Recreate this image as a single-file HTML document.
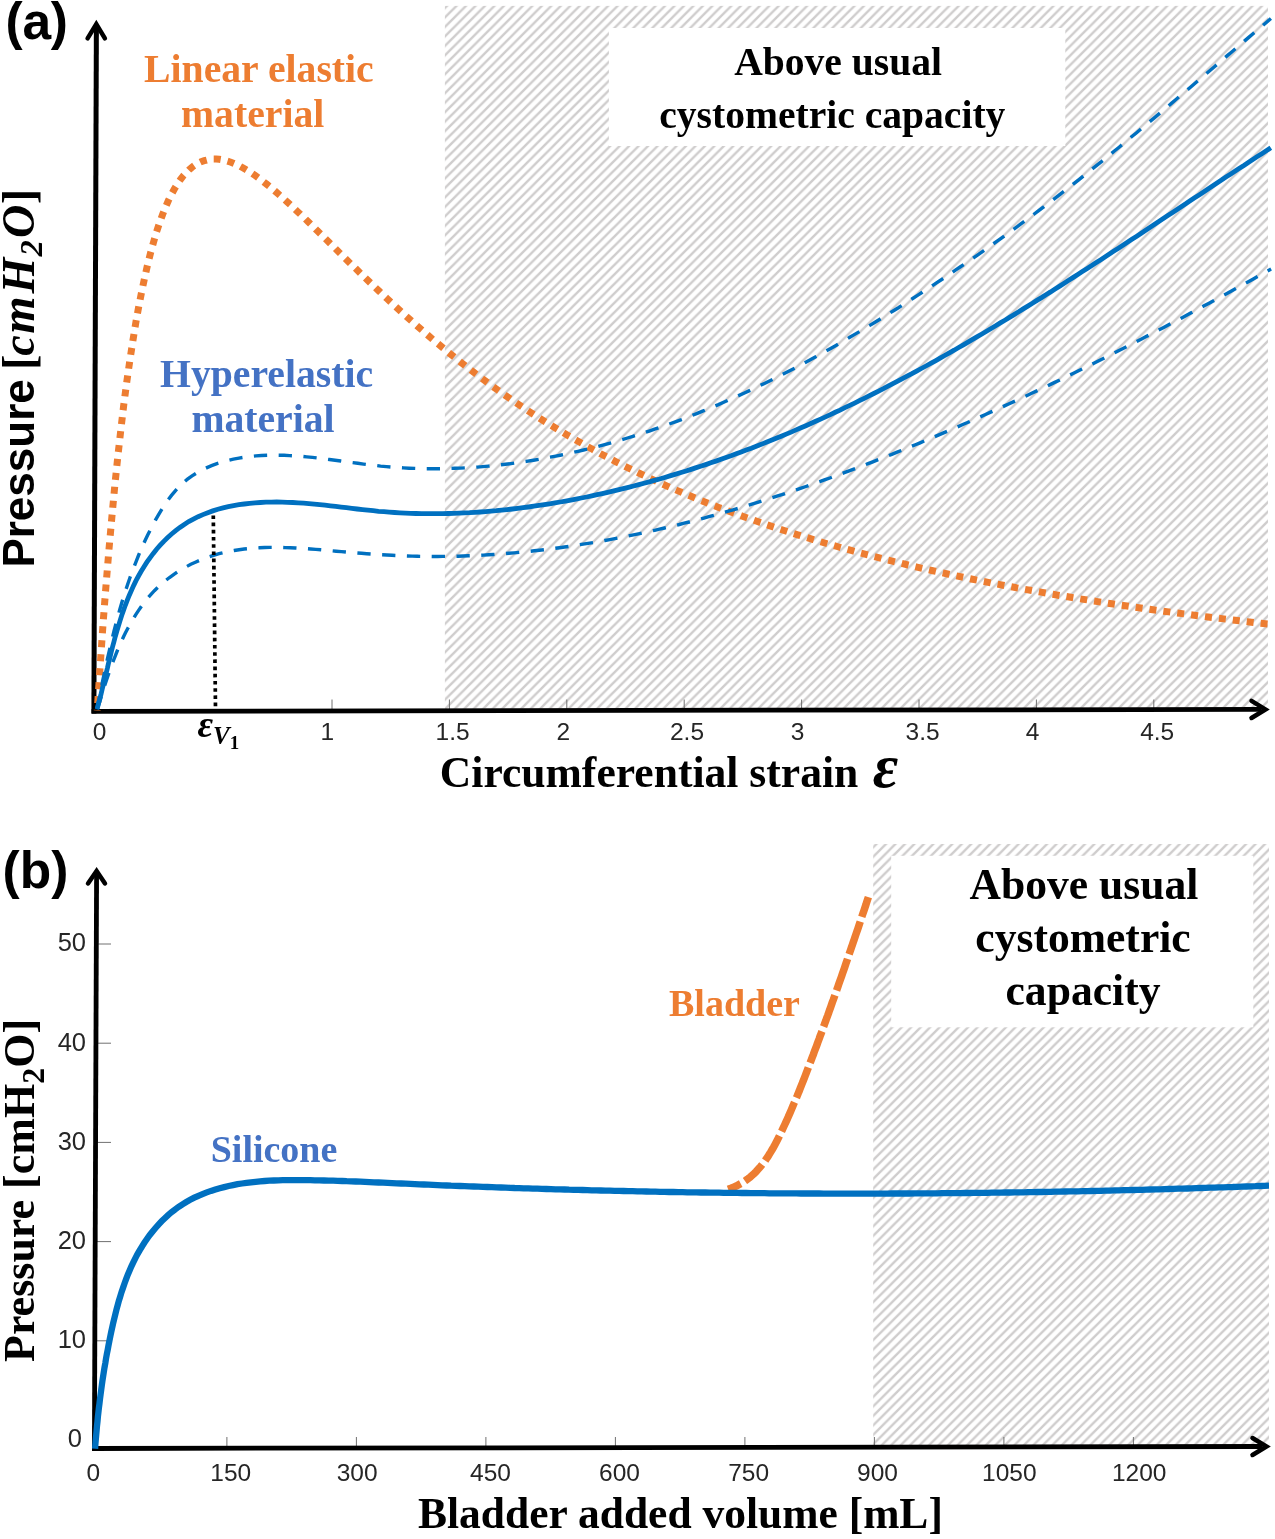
<!DOCTYPE html>
<html lang="en"><head><meta charset="utf-8"><title>Figure</title>
<style>html,body{margin:0;padding:0;background:#fff}svg{display:block}</style></head>
<body>
<svg width="1275" height="1539" viewBox="0 0 1275 1539">
<defs>
<pattern id="hatchA" patternUnits="userSpaceOnUse" width="9.476" height="9.476" x="7.53" y="0"><path d="M-9.476 9.476 L9.476 -9.476 M-9.476 18.952 L18.952 -9.476 M0 18.952 L18.952 0" stroke="#cfcdcd" stroke-width="2.4" fill="none"/></pattern>
<pattern id="hatchB" patternUnits="userSpaceOnUse" width="9.476" height="9.476" x="5.34" y="0"><path d="M-9.476 9.476 L9.476 -9.476 M-9.476 18.952 L18.952 -9.476 M0 18.952 L18.952 0" stroke="#cfcdcd" stroke-width="2.4" fill="none"/></pattern>
</defs>
<rect width="1275" height="1539" fill="#fff"/>
<rect x="444.9" y="5.9" width="823.1" height="703" fill="url(#hatchA)"/>
<rect x="608.9" y="28" width="456.4" height="118" fill="#fff"/>
<line x1="332.0" y1="699.5" x2="332.0" y2="709" stroke="#707070" stroke-width="1"/>
<line x1="449.4" y1="699.5" x2="449.4" y2="709" stroke="#707070" stroke-width="1"/>
<line x1="566.8" y1="699.5" x2="566.8" y2="709" stroke="#707070" stroke-width="1"/>
<line x1="684.2" y1="699.5" x2="684.2" y2="709" stroke="#707070" stroke-width="1"/>
<line x1="801.6" y1="699.5" x2="801.6" y2="709" stroke="#707070" stroke-width="1"/>
<line x1="919.0" y1="699.5" x2="919.0" y2="709" stroke="#707070" stroke-width="1"/>
<line x1="1036.4" y1="699.5" x2="1036.4" y2="709" stroke="#707070" stroke-width="1"/>
<line x1="1153.8" y1="699.5" x2="1153.8" y2="709" stroke="#707070" stroke-width="1"/>
<path d="M93.9 713.6 L96.38 27" stroke="#000" stroke-width="5" fill="none"/>
<path d="M87.6 38.4 L96.3 24 L104.9 38.4" stroke="#000" stroke-width="4.5" fill="none" stroke-linecap="round" stroke-linejoin="miter"/>
<path d="M91.6 711.3 L1261 709.4" stroke="#000" stroke-width="4.8" fill="none"/>
<path d="M1251.5 700.8 L1265.5 709.4 L1251.5 718" stroke="#000" stroke-width="4.5" fill="none" stroke-linecap="round" stroke-linejoin="miter"/>
<path d="M97.2 710.5 L100.2 665.1 L103.1 623.1 L106.1 584.1 L109.1 548.0 L112.1 514.5 L115.0 483.6 L118.0 454.9 L121.0 428.3 L123.9 403.7 L126.9 381.0 L129.9 360.0 L132.9 340.6 L135.8 322.7 L138.8 306.2 L141.8 291.0 L144.8 277.0 L147.7 264.2 L150.7 252.4 L153.7 241.6 L156.6 231.7 L159.6 222.7 L162.6 214.5 L165.6 207.0 L168.5 200.3 L171.5 194.2 L174.5 188.8 L177.4 183.9 L180.4 179.6 L183.4 175.7 L186.4 172.4 L189.3 169.5 L192.3 167.0 L195.3 164.9 L198.3 163.1 L201.2 161.7 L204.2 160.7 L207.2 159.9 L210.1 159.4 L213.1 159.1 L216.1 159.1 L219.1 159.3 L222.0 159.8 L225.0 160.4 L228.0 161.3 L230.9 162.3 L233.9 163.4 L236.9 164.7 L239.9 166.2 L242.8 167.8 L245.8 169.5 L248.8 171.3 L251.8 173.2 L254.7 175.2 L257.7 177.3 L260.7 179.5 L263.6 181.8 L266.6 184.1 L269.6 186.5 L272.6 189.0 L275.5 191.5 L278.5 194.1 L281.5 196.7 L284.4 199.4 L287.4 202.1 L290.4 204.8 L293.4 207.6 L296.3 210.4 L299.3 213.2 L302.3 216.1 L305.3 218.9 L308.2 221.8 L311.2 224.7 L314.2 227.6 L317.1 230.6 L320.1 233.5 L323.1 236.4 L326.1 239.4 L329.0 242.3 L332.0 245.2 L339.9 253.1 L347.8 260.9 L355.7 268.6 L363.6 276.3 L371.5 283.9 L379.4 291.4 L387.2 298.8 L395.1 306.2 L403.0 313.4 L410.9 320.4 L418.8 327.4 L426.7 334.2 L434.6 341.0 L442.5 347.5 L450.4 354.0 L458.3 360.3 L466.2 366.5 L474.1 372.6 L482.0 378.5 L489.8 384.3 L497.7 390.0 L505.6 395.6 L513.5 401.0 L521.4 406.4 L529.3 411.6 L537.2 416.7 L545.1 421.7 L553.0 426.5 L560.9 431.3 L568.8 436.0 L576.7 440.5 L584.6 445.0 L592.5 449.3 L600.3 453.6 L608.2 457.7 L616.1 461.8 L624.0 465.8 L631.9 469.7 L639.8 473.5 L647.7 477.2 L655.6 480.9 L663.5 484.5 L671.4 488.0 L679.3 491.4 L687.2 494.7 L695.1 498.0 L702.9 501.2 L710.8 504.3 L718.7 507.4 L726.6 510.4 L734.5 513.3 L742.4 516.2 L750.3 519.0 L758.2 521.8 L766.1 524.5 L774.0 527.2 L781.9 529.8 L789.8 532.3 L797.7 534.8 L805.5 537.2 L813.4 539.6 L821.3 542.0 L829.2 544.3 L837.1 546.5 L845.0 548.8 L852.9 550.9 L860.8 553.1 L868.7 555.1 L876.6 557.2 L884.5 559.2 L892.4 561.2 L900.3 563.1 L908.1 565.0 L916.0 566.9 L923.9 568.7 L931.8 570.5 L939.7 572.2 L947.6 574.0 L955.5 575.7 L963.4 577.3 L971.3 579.0 L979.2 580.6 L987.1 582.1 L995.0 583.7 L1002.9 585.2 L1010.7 586.7 L1018.6 588.2 L1026.5 589.6 L1034.4 591.0 L1042.3 592.4 L1050.2 593.8 L1058.1 595.2 L1066.0 596.5 L1073.9 597.8 L1081.8 599.1 L1089.7 600.3 L1097.6 601.6 L1105.5 602.8 L1113.4 604.0 L1121.2 605.2 L1129.1 606.3 L1137.0 607.5 L1144.9 608.6 L1152.8 609.7 L1160.7 610.8 L1168.6 611.9 L1176.5 612.9 L1184.4 613.9 L1192.3 615.0 L1200.2 616.0 L1208.1 617.0 L1216.0 617.9 L1223.8 618.9 L1231.7 619.8 L1239.6 620.8 L1247.5 621.7 L1255.4 622.6 L1263.3 623.5 L1271.2 624.3" fill="none" stroke="#ED7D31" stroke-width="7" stroke-dasharray="7 7" stroke-dashoffset="6.6"/>
<path d="M96.9 709.3 L98.0 703.6 L99.2 698.0 L100.3 692.4 L101.5 686.8 L102.6 681.2 L103.8 675.6 L105.0 670.0 L106.2 664.5 L107.4 658.9 L108.7 653.4 L110.0 647.8 L111.3 642.3 L112.6 636.8 L113.9 631.3 L115.4 625.8 L116.8 620.4 L118.3 614.9 L119.8 609.5 L121.4 604.1 L123.0 598.7 L124.7 593.3 L126.5 587.9 L128.3 582.5 L130.1 577.2 L132.1 571.9 L134.1 566.6 L136.2 561.3 L138.3 556.0 L140.5 550.7 L142.8 545.5 L145.2 540.3 L147.7 535.1 L150.3 529.9 L152.9 524.8 L155.7 519.6 L158.6 514.6 L161.6 509.6 L164.7 504.7 L168.0 500.0 L171.5 495.4 L175.1 491.1 L178.9 486.9 L183.0 483.0 L187.2 479.4 L191.7 476.1 L196.4 473.1 L201.3 470.4 L206.4 467.9 L211.6 465.7 L216.9 463.7 L222.4 462.0 L227.9 460.5 L233.4 459.2 L239.0 458.1 L244.6 457.2 L250.3 456.5 L255.9 455.9 L261.5 455.5 L267.2 455.3 L272.8 455.2 L278.4 455.2 L284.1 455.3 L289.7 455.6 L295.4 455.9 L301.1 456.3 L306.7 456.9 L312.4 457.4 L318.1 458.1 L323.7 458.8 L329.4 459.5 L335.1 460.2 L340.8 461.0 L346.5 461.8 L352.2 462.6 L357.8 463.3 L363.5 464.1 L369.2 464.8 L374.9 465.4 L380.6 466.1 L386.3 466.6 L392.0 467.1 L397.7 467.5 L403.4 467.9 L409.1 468.2 L414.7 468.4 L420.4 468.6 L426.1 468.7 L431.8 468.7 L437.5 468.7 L443.2 468.7 L448.8 468.5 L454.5 468.3 L460.2 468.1 L465.8 467.8 L471.5 467.5 L477.2 467.1 L482.8 466.6 L488.5 466.1 L494.1 465.5 L499.7 464.9 L505.4 464.3 L511.0 463.6 L516.6 462.8 L522.2 462.0 L527.9 461.1 L533.5 460.2 L539.0 459.3 L544.6 458.3 L550.2 457.2 L555.8 456.1 L561.4 455.0 L566.9 453.8 L572.5 452.6 L578.0 451.3 L583.5 450.0 L589.1 448.7 L594.6 447.3 L600.1 445.8 L605.6 444.3 L611.1 442.8 L616.5 441.3 L622.0 439.7 L627.5 438.0 L632.9 436.3 L638.3 434.6 L643.8 432.9 L649.2 431.1 L654.6 429.2 L660.0 427.4 L665.3 425.5 L670.7 423.5 L676.0 421.6 L681.4 419.6 L686.7 417.5 L692.0 415.4 L697.3 413.3 L702.6 411.2 L707.9 409.0 L713.1 406.8 L718.4 404.6 L723.6 402.3 L728.8 400.0 L734.0 397.7 L739.2 395.4 L744.4 393.0 L749.5 390.6 L754.7 388.2 L759.8 385.7 L764.9 383.2 L770.0 380.7 L775.1 378.2 L780.1 375.6 L785.2 373.0 L790.2 370.4 L795.3 367.8 L800.3 365.1 L805.3 362.4 L810.3 359.7 L815.3 357.0 L820.3 354.2 L825.2 351.5 L830.2 348.7 L835.1 345.9 L840.0 343.0 L844.9 340.2 L849.8 337.3 L854.7 334.4 L859.6 331.5 L864.5 328.6 L869.4 325.6 L874.2 322.7 L879.1 319.7 L883.9 316.7 L888.7 313.7 L893.5 310.7 L898.4 307.7 L903.2 304.6 L907.9 301.6 L912.7 298.5 L917.5 295.4 L922.3 292.3 L927.0 289.2 L931.8 286.1 L936.5 282.9 L941.3 279.8 L946.0 276.6 L950.7 273.4 L955.4 270.2 L960.1 267.0 L964.8 263.8 L969.5 260.6 L974.2 257.3 L978.9 254.1 L983.5 250.8 L988.2 247.5 L992.8 244.2 L997.5 240.9 L1002.1 237.6 L1006.7 234.3 L1011.3 230.9 L1015.9 227.6 L1020.5 224.2 L1025.1 220.8 L1029.6 217.4 L1034.2 214.0 L1038.7 210.6 L1043.3 207.2 L1047.8 203.7 L1052.3 200.3 L1056.8 196.8 L1061.3 193.3 L1065.8 189.9 L1070.3 186.4 L1074.8 182.8 L1079.3 179.3 L1083.7 175.8 L1088.2 172.2 L1092.6 168.7 L1097.0 165.1 L1101.5 161.6 L1105.9 158.0 L1110.3 154.4 L1114.7 150.8 L1119.1 147.2 L1123.5 143.6 L1127.8 139.9 L1132.2 136.3 L1136.6 132.7 L1141.0 129.0 L1145.3 125.4 L1149.7 121.7 L1154.0 118.1 L1158.4 114.4 L1162.7 110.8 L1167.1 107.1 L1171.4 103.4 L1175.7 99.7 L1180.1 96.0 L1184.4 92.4 L1188.7 88.7 L1193.1 85.0 L1197.4 81.3 L1201.7 77.6 L1206.0 73.9 L1210.3 70.2 L1214.7 66.5 L1219.0 62.8 L1223.3 59.1 L1227.6 55.4 L1232.0 51.7 L1236.3 48.0 L1240.6 44.3 L1244.9 40.6 L1249.3 36.9 L1253.6 33.2 L1257.9 29.5 L1262.3 25.9 L1266.6 22.2 L1270.9 18.5" fill="none" stroke="#0070C0" stroke-width="3.4" stroke-dasharray="13.3 11.5"/>
<path d="M97.4 709.2 L98.8 704.6 L100.2 699.9 L101.7 695.1 L103.2 690.4 L104.7 685.5 L106.3 680.7 L108.0 675.8 L109.6 671.0 L111.4 666.1 L113.2 661.2 L115.1 656.3 L117.0 651.5 L119.0 646.7 L121.2 641.9 L123.3 637.2 L125.6 632.6 L128.0 628.0 L130.5 623.4 L133.1 619.0 L135.8 614.6 L138.6 610.4 L141.5 606.2 L144.5 602.1 L147.7 598.2 L151.0 594.4 L154.4 590.7 L158.0 587.2 L161.7 583.8 L165.5 580.6 L169.5 577.5 L173.6 574.6 L177.7 571.8 L182.0 569.2 L186.4 566.7 L190.8 564.3 L195.4 562.2 L200.0 560.2 L204.7 558.3 L209.4 556.6 L214.3 555.1 L219.1 553.7 L224.1 552.5 L229.0 551.4 L234.1 550.5 L239.1 549.7 L244.2 549.0 L249.3 548.5 L254.4 548.1 L259.5 547.8 L264.6 547.5 L269.8 547.4 L274.9 547.4 L280.0 547.4 L285.1 547.6 L290.3 547.7 L295.4 548.0 L300.5 548.3 L305.6 548.6 L310.7 549.0 L315.8 549.4 L320.9 549.8 L326.1 550.3 L331.2 550.7 L336.2 551.2 L341.3 551.6 L346.4 552.1 L351.5 552.5 L356.6 552.9 L361.6 553.3 L366.7 553.7 L371.8 554.1 L376.8 554.4 L381.9 554.7 L386.9 555.0 L392.0 555.3 L397.1 555.5 L402.1 555.8 L407.2 556.0 L412.2 556.1 L417.3 556.3 L422.4 556.4 L427.4 556.4 L432.5 556.5 L437.6 556.5 L442.7 556.4 L447.8 556.4 L452.9 556.3 L458.0 556.2 L463.1 556.0 L468.2 555.8 L473.3 555.6 L478.3 555.4 L483.4 555.1 L488.5 554.8 L493.6 554.5 L498.7 554.1 L503.8 553.7 L508.9 553.3 L514.0 552.9 L519.1 552.4 L524.1 551.9 L529.2 551.4 L534.3 550.8 L539.4 550.3 L544.4 549.7 L549.5 549.0 L554.5 548.4 L559.6 547.7 L564.6 547.0 L569.6 546.3 L574.7 545.5 L579.7 544.7 L584.7 543.9 L589.7 543.1 L594.8 542.3 L599.8 541.4 L604.8 540.5 L609.8 539.6 L614.8 538.7 L619.8 537.7 L624.7 536.7 L629.7 535.7 L634.7 534.7 L639.7 533.6 L644.6 532.5 L649.6 531.5 L654.6 530.3 L659.5 529.2 L664.5 528.0 L669.4 526.9 L674.3 525.7 L679.3 524.5 L684.2 523.2 L689.1 522.0 L694.1 520.7 L699.0 519.4 L703.9 518.1 L708.8 516.7 L713.7 515.4 L718.6 514.0 L723.5 512.6 L728.4 511.2 L733.2 509.8 L738.1 508.4 L743.0 506.9 L747.9 505.4 L752.7 503.9 L757.6 502.4 L762.4 500.9 L767.3 499.4 L772.1 497.8 L777.0 496.2 L781.8 494.7 L786.7 493.0 L791.5 491.4 L796.3 489.8 L801.1 488.1 L805.9 486.5 L810.7 484.8 L815.6 483.1 L820.4 481.4 L825.1 479.7 L829.9 478.0 L834.7 476.2 L839.5 474.5 L844.3 472.7 L849.1 470.9 L853.8 469.1 L858.6 467.3 L863.3 465.5 L868.1 463.6 L872.8 461.8 L877.6 459.9 L882.3 458.1 L887.1 456.2 L891.8 454.3 L896.5 452.4 L901.2 450.5 L906.0 448.6 L910.7 446.7 L915.4 444.7 L920.1 442.8 L924.8 440.8 L929.5 438.9 L934.2 436.9 L938.9 434.9 L943.5 432.9 L948.2 430.9 L952.9 428.9 L957.6 426.9 L962.2 424.8 L966.9 422.8 L971.5 420.7 L976.2 418.7 L980.8 416.6 L985.5 414.5 L990.1 412.4 L994.8 410.4 L999.4 408.2 L1004.0 406.1 L1008.6 404.0 L1013.3 401.9 L1017.9 399.8 L1022.5 397.6 L1027.1 395.5 L1031.7 393.3 L1036.3 391.1 L1040.9 388.9 L1045.5 386.8 L1050.1 384.6 L1054.7 382.4 L1059.3 380.2 L1063.8 377.9 L1068.4 375.7 L1073.0 373.5 L1077.5 371.3 L1082.1 369.0 L1086.7 366.8 L1091.2 364.5 L1095.8 362.2 L1100.3 360.0 L1104.9 357.7 L1109.4 355.4 L1114.0 353.1 L1118.5 350.8 L1123.0 348.5 L1127.6 346.2 L1132.1 343.8 L1136.6 341.5 L1141.1 339.2 L1145.7 336.8 L1150.2 334.5 L1154.7 332.1 L1159.2 329.8 L1163.7 327.4 L1168.2 325.0 L1172.7 322.7 L1177.2 320.3 L1181.7 317.9 L1186.2 315.5 L1190.7 313.1 L1195.2 310.7 L1199.7 308.3 L1204.1 305.8 L1208.6 303.4 L1213.1 301.0 L1217.6 298.6 L1222.0 296.1 L1226.5 293.7 L1231.0 291.2 L1235.4 288.8 L1239.9 286.3 L1244.4 283.8 L1248.8 281.4 L1253.3 278.9 L1257.7 276.4 L1262.2 273.9 L1266.6 271.5 L1271.1 269.0" fill="none" stroke="#0070C0" stroke-width="3.4" stroke-dasharray="13.3 11.5"/>
<path d="M97.1 708.9 L98.4 703.9 L99.8 698.9 L101.1 693.9 L102.3 688.8 L103.6 683.6 L104.8 678.5 L106.1 673.3 L107.4 668.1 L108.6 662.8 L109.9 657.6 L111.2 652.3 L112.5 647.0 L113.9 641.8 L115.3 636.5 L116.8 631.3 L118.4 626.1 L120.0 620.9 L121.6 615.7 L123.4 610.6 L125.2 605.5 L127.2 600.4 L129.2 595.4 L131.4 590.5 L133.6 585.6 L136.0 580.7 L138.5 576.0 L141.2 571.3 L144.0 566.7 L146.9 562.2 L150.0 557.8 L153.3 553.4 L156.6 549.2 L160.2 545.2 L163.8 541.3 L167.7 537.5 L171.6 534.0 L175.7 530.6 L179.9 527.4 L184.3 524.4 L188.7 521.6 L193.4 519.1 L198.1 516.7 L202.9 514.6 L207.8 512.7 L212.8 510.9 L217.9 509.3 L223.1 507.9 L228.3 506.7 L233.6 505.6 L238.9 504.7 L244.3 504.0 L249.6 503.3 L255.0 502.8 L260.4 502.5 L265.9 502.2 L271.3 502.1 L276.7 502.0 L282.1 502.1 L287.5 502.3 L292.8 502.5 L298.2 502.8 L303.6 503.2 L308.9 503.6 L314.3 504.1 L319.7 504.6 L325.0 505.2 L330.4 505.8 L335.7 506.4 L341.1 507.1 L346.4 507.7 L351.8 508.3 L357.1 509.0 L362.5 509.6 L367.8 510.2 L373.2 510.7 L378.5 511.3 L383.9 511.7 L389.2 512.1 L394.6 512.5 L399.9 512.8 L405.3 513.1 L410.7 513.3 L416.0 513.5 L421.4 513.6 L426.8 513.7 L432.1 513.7 L437.5 513.7 L442.8 513.6 L448.2 513.5 L453.6 513.4 L458.9 513.2 L464.3 512.9 L469.6 512.7 L475.0 512.3 L480.3 512.0 L485.7 511.6 L491.0 511.1 L496.4 510.7 L501.7 510.1 L507.1 509.6 L512.4 509.0 L517.7 508.3 L523.0 507.7 L528.4 507.0 L533.7 506.2 L539.0 505.4 L544.3 504.6 L549.6 503.8 L554.9 502.9 L560.2 502.0 L565.5 501.1 L570.8 500.1 L576.0 499.1 L581.3 498.0 L586.6 497.0 L591.8 495.9 L597.1 494.7 L602.3 493.6 L607.6 492.4 L612.8 491.2 L618.0 489.9 L623.2 488.6 L628.4 487.3 L633.6 486.0 L638.8 484.7 L644.0 483.3 L649.2 481.9 L654.4 480.4 L659.6 479.0 L664.7 477.5 L669.9 475.9 L675.0 474.4 L680.2 472.8 L685.3 471.2 L690.4 469.6 L695.5 467.9 L700.6 466.3 L705.7 464.6 L710.8 462.8 L715.9 461.1 L721.0 459.3 L726.0 457.5 L731.1 455.7 L736.2 453.8 L741.2 452.0 L746.2 450.1 L751.3 448.2 L756.3 446.2 L761.3 444.3 L766.3 442.3 L771.3 440.3 L776.2 438.3 L781.2 436.2 L786.2 434.1 L791.1 432.1 L796.1 429.9 L801.0 427.8 L805.9 425.7 L810.8 423.5 L815.7 421.3 L820.6 419.1 L825.5 416.9 L830.4 414.6 L835.2 412.3 L840.1 410.1 L844.9 407.7 L849.8 405.4 L854.6 403.1 L859.4 400.7 L864.2 398.3 L869.0 395.9 L873.8 393.5 L878.6 391.1 L883.4 388.7 L888.1 386.2 L892.9 383.7 L897.7 381.2 L902.4 378.7 L907.1 376.2 L911.9 373.7 L916.6 371.1 L921.3 368.5 L926.0 366.0 L930.7 363.4 L935.4 360.8 L940.1 358.1 L944.7 355.5 L949.4 352.8 L954.1 350.2 L958.7 347.5 L963.4 344.8 L968.0 342.1 L972.6 339.4 L977.3 336.7 L981.9 334.0 L986.5 331.2 L991.1 328.5 L995.7 325.7 L1000.3 322.9 L1004.9 320.2 L1009.5 317.4 L1014.1 314.6 L1018.7 311.8 L1023.2 308.9 L1027.8 306.1 L1032.4 303.3 L1036.9 300.4 L1041.5 297.6 L1046.0 294.7 L1050.6 291.9 L1055.1 289.0 L1059.7 286.1 L1064.2 283.2 L1068.7 280.3 L1073.3 277.4 L1077.8 274.5 L1082.3 271.6 L1086.8 268.7 L1091.4 265.8 L1095.9 262.8 L1100.4 259.9 L1104.9 257.0 L1109.4 254.0 L1113.9 251.1 L1118.4 248.2 L1122.9 245.2 L1127.4 242.3 L1131.9 239.3 L1136.4 236.4 L1140.9 233.4 L1145.3 230.4 L1149.8 227.5 L1154.3 224.5 L1158.8 221.6 L1163.3 218.6 L1167.8 215.6 L1172.2 212.7 L1176.7 209.7 L1181.2 206.7 L1185.7 203.8 L1190.1 200.8 L1194.6 197.8 L1199.1 194.9 L1203.6 191.9 L1208.0 189.0 L1212.5 186.0 L1217.0 183.0 L1221.5 180.1 L1225.9 177.1 L1230.4 174.2 L1234.9 171.2 L1239.4 168.3 L1243.9 165.4 L1248.3 162.4 L1252.8 159.5 L1257.3 156.6 L1261.8 153.7 L1266.3 150.8 L1270.8 147.8" fill="none" stroke="#0070C0" stroke-width="4.8"/>
<line x1="213.3" y1="515.4" x2="215.5" y2="709" stroke="#000" stroke-width="3.7" stroke-dasharray="3.6 3.6"/>
<text x="99.5" y="739.6" font-family='"Liberation Sans", sans-serif' font-size="24.5" fill="#262626" text-anchor="middle">0</text>
<text x="327.3" y="739.6" font-family='"Liberation Sans", sans-serif' font-size="24.5" fill="#262626" text-anchor="middle">1</text>
<text x="452.6" y="739.6" font-family='"Liberation Sans", sans-serif' font-size="24.5" fill="#262626" text-anchor="middle">1.5</text>
<text x="563.2" y="739.6" font-family='"Liberation Sans", sans-serif' font-size="24.5" fill="#262626" text-anchor="middle">2</text>
<text x="687.0" y="739.6" font-family='"Liberation Sans", sans-serif' font-size="24.5" fill="#262626" text-anchor="middle">2.5</text>
<text x="797.6" y="739.6" font-family='"Liberation Sans", sans-serif' font-size="24.5" fill="#262626" text-anchor="middle">3</text>
<text x="922.6" y="739.6" font-family='"Liberation Sans", sans-serif' font-size="24.5" fill="#262626" text-anchor="middle">3.5</text>
<text x="1032.6" y="739.6" font-family='"Liberation Sans", sans-serif' font-size="24.5" fill="#262626" text-anchor="middle">4</text>
<text x="1157.2" y="739.6" font-family='"Liberation Sans", sans-serif' font-size="24.5" fill="#262626" text-anchor="middle">4.5</text>
<text x="5.5" y="39" font-family='"Liberation Sans", sans-serif' font-weight="bold" font-size="51.5" textLength="62.5" fill="#000">(a)</text>
<text font-family='"Liberation Serif", serif' font-weight="bold" font-size="39.7" fill="#ED7D31" text-anchor="middle"><tspan x="258.9" y="81.8">Linear elastic</tspan><tspan x="252.7" y="126.7">material</tspan></text>
<text font-family='"Liberation Serif", serif' font-weight="bold" font-size="39.7" fill="#4472C4" text-anchor="middle"><tspan x="266.6" y="386.8">Hyperelastic</tspan><tspan x="263" y="431.7">material</tspan></text>
<text font-family='"Liberation Serif", serif' font-weight="bold" font-size="39.6" fill="#000" text-anchor="middle"><tspan x="838.1" y="75.3">Above usual</tspan><tspan x="832.3" y="128">cystometric capacity</tspan></text>
<text x="439.8" y="786.8" font-family='"Liberation Serif", serif' font-weight="bold" font-size="43.6" fill="#000">Circumferential strain <tspan font-style="italic" font-size="62" dx="3.5">ε</tspan></text>
<text x="197.5" y="737.3" font-family='"Liberation Serif", serif' font-weight="bold" font-style="italic" font-size="38" fill="#000">ε<tspan font-size="25" dy="6.5">V</tspan><tspan font-size="19" dy="5" font-style="normal">1</tspan></text>
<text transform="translate(33.8 567.6) rotate(-90)" font-family='"Liberation Sans", sans-serif' font-weight="bold" font-size="44" fill="#000">Pressure</text>
<text transform="translate(34 370) rotate(-90)" font-family='"Liberation Serif", serif' font-weight="bold" font-style="italic" font-size="46" fill="#000"><tspan font-style="normal">[</tspan><tspan dx="-1">c</tspan><tspan dx="1.5" font-size="48">m</tspan><tspan dx="3" font-size="46">H</tspan><tspan font-size="32" dy="8" dx="1.5">2</tspan><tspan dy="-8" dx="2.2">O</tspan><tspan font-style="normal" dx="0.5">]</tspan></text>
<rect x="873.2" y="844" width="395.8" height="602.5" fill="url(#hatchB)"/>
<rect x="891.2" y="855.8" width="362.1" height="171.5" fill="#fff"/>
<line x1="226.9" y1="1437" x2="226.9" y2="1446.5" stroke="#707070" stroke-width="1"/>
<line x1="356.4" y1="1437" x2="356.4" y2="1446.5" stroke="#707070" stroke-width="1"/>
<line x1="485.9" y1="1437" x2="485.9" y2="1446.5" stroke="#707070" stroke-width="1"/>
<line x1="615.4" y1="1437" x2="615.4" y2="1446.5" stroke="#707070" stroke-width="1"/>
<line x1="744.9" y1="1437" x2="744.9" y2="1446.5" stroke="#707070" stroke-width="1"/>
<line x1="874.4" y1="1437" x2="874.4" y2="1446.5" stroke="#707070" stroke-width="1"/>
<line x1="1003.9" y1="1437" x2="1003.9" y2="1446.5" stroke="#707070" stroke-width="1"/>
<line x1="1133.4" y1="1437" x2="1133.4" y2="1446.5" stroke="#707070" stroke-width="1"/>
<line x1="97" y1="1340.8" x2="111" y2="1340.8" stroke="#707070" stroke-width="1"/>
<line x1="97" y1="1241.6" x2="111" y2="1241.6" stroke="#707070" stroke-width="1"/>
<line x1="97" y1="1142.4" x2="111" y2="1142.4" stroke="#707070" stroke-width="1"/>
<line x1="97" y1="1043.2" x2="111" y2="1043.2" stroke="#707070" stroke-width="1"/>
<line x1="97" y1="944.0" x2="111" y2="944.0" stroke="#707070" stroke-width="1"/>
<path d="M94.4 1451 L96.58 875" stroke="#000" stroke-width="4.8" fill="none"/>
<path d="M88 883.5 L96.6 871 L105 883.5" stroke="#000" stroke-width="4.5" fill="none" stroke-linecap="round"/>
<path d="M92 1448.5 L1262 1446.5" stroke="#000" stroke-width="4.8" fill="none"/>
<path d="M1252.5 1438 L1266.5 1446.5 L1252.5 1455" stroke="#000" stroke-width="4.5" fill="none" stroke-linecap="round"/>
<path d="M728.1 1189.2 L730.9 1188.2 L733.6 1187.1 L736.3 1186.0 L738.8 1184.7 L741.2 1183.4 L743.6 1181.9 L745.8 1180.4 L748.0 1178.8 L750.2 1177.1 L752.2 1175.3 L754.2 1173.5 L756.1 1171.6 L757.9 1169.6 L759.7 1167.6 L761.5 1165.5 L763.1 1163.4 L764.8 1161.2 L766.3 1158.9 L767.9 1156.6 L769.3 1154.3 L770.8 1151.9 L772.2 1149.5 L773.6 1147.1 L774.9 1144.7 L776.2 1142.2 L777.5 1139.7 L778.8 1137.2 L780.0 1134.6 L781.2 1132.1 L782.4 1129.6 L783.6 1127.0 L784.8 1124.5 L786.0 1121.9 L787.1 1119.4 L788.3 1116.8 L789.4 1114.2 L790.5 1111.7 L791.6 1109.1 L792.7 1106.5 L793.8 1103.9 L794.9 1101.4 L796.0 1098.8 L797.1 1096.2 L798.1 1093.6 L799.2 1091.0 L800.2 1088.4 L801.2 1085.8 L802.3 1083.2 L803.3 1080.6 L804.3 1078.1 L805.3 1075.5 L806.3 1072.9 L807.3 1070.2 L808.3 1067.6 L809.3 1065.0 L810.3 1062.4 L811.3 1059.8 L812.3 1057.2 L813.3 1054.6 L814.2 1052.0 L815.2 1049.4 L816.2 1046.8 L817.2 1044.2 L818.1 1041.6 L819.1 1039.0 L820.0 1036.4 L821.0 1033.8 L822.0 1031.2 L822.9 1028.5 L823.9 1025.9 L824.8 1023.3 L825.8 1020.7 L826.7 1018.1 L827.7 1015.5 L828.6 1012.9 L829.5 1010.3 L830.5 1007.7 L831.4 1005.0 L832.3 1002.4 L833.3 999.8 L834.2 997.2 L835.1 994.6 L836.1 992.0 L837.0 989.3 L837.9 986.7 L838.8 984.1 L839.7 981.5 L840.7 978.8 L841.6 976.2 L842.5 973.6 L843.4 971.0 L844.3 968.4 L845.2 965.7 L846.1 963.1 L847.0 960.5 L847.9 957.8 L848.8 955.2 L849.7 952.6 L850.6 950.0 L851.5 947.3 L852.4 944.7 L853.3 942.0 L854.2 939.4 L855.1 936.8 L856.0 934.1 L856.9 931.5 L857.8 928.9 L858.7 926.2 L859.6 923.6 L860.5 920.9 L861.3 918.3 L862.2 915.6 L863.1 913.0 L864.0 910.4 L864.9 907.7 L865.8 905.1 L866.6 902.4 L867.5 899.8 L868.4 897.1" fill="none" stroke="#ED7D31" stroke-width="7.5" stroke-dasharray="13.8 5 23.9 5 28.6 5 31.7 5 32.5 5 33.6 5 33.5 5 33.4 5 34.4 5 40 5"/>
<path d="M95.1 1448.7 L95.4 1444.1 L95.8 1439.5 L96.2 1434.9 L96.6 1430.4 L97.0 1425.8 L97.5 1421.3 L97.9 1416.8 L98.4 1412.3 L98.9 1407.8 L99.5 1403.3 L100.0 1398.8 L100.6 1394.3 L101.2 1389.9 L101.8 1385.4 L102.4 1381.0 L103.1 1376.5 L103.8 1372.1 L104.5 1367.6 L105.3 1363.2 L106.0 1358.7 L106.8 1354.3 L107.7 1349.8 L108.5 1345.4 L109.4 1340.9 L110.3 1336.4 L111.2 1332.0 L112.2 1327.5 L113.2 1323.0 L114.3 1318.5 L115.4 1314.0 L116.5 1309.6 L117.7 1305.1 L118.9 1300.7 L120.3 1296.3 L121.6 1291.9 L123.1 1287.6 L124.6 1283.2 L126.2 1278.9 L127.8 1274.7 L129.6 1270.5 L131.4 1266.3 L133.4 1262.2 L135.4 1258.1 L137.5 1254.1 L139.8 1250.2 L142.1 1246.3 L144.5 1242.5 L147.1 1238.7 L149.8 1235.0 L152.6 1231.5 L155.5 1228.0 L158.5 1224.6 L161.6 1221.3 L164.8 1218.2 L168.1 1215.1 L171.5 1212.2 L175.1 1209.4 L178.7 1206.8 L182.5 1204.3 L186.3 1202.0 L190.2 1199.8 L194.3 1197.7 L198.4 1195.8 L202.5 1194.1 L206.8 1192.4 L211.0 1190.9 L215.4 1189.5 L219.7 1188.2 L224.2 1187.1 L228.6 1186.0 L233.1 1185.1 L237.5 1184.2 L242.0 1183.5 L246.5 1182.8 L251.0 1182.3 L255.6 1181.8 L260.1 1181.3 L264.6 1181.0 L269.2 1180.7 L273.8 1180.5 L278.3 1180.3 L282.9 1180.2 L287.5 1180.1 L292.0 1180.1 L296.6 1180.1 L301.2 1180.1 L305.7 1180.1 L310.3 1180.2 L314.9 1180.3 L319.4 1180.4 L324.0 1180.5 L328.6 1180.6 L333.1 1180.7 L337.7 1180.9 L342.2 1181.0 L346.7 1181.2 L351.3 1181.3 L355.8 1181.5 L360.4 1181.7 L364.9 1181.9 L369.4 1182.1 L374.0 1182.3 L378.5 1182.5 L383.1 1182.7 L387.6 1182.9 L392.1 1183.1 L396.7 1183.3 L401.2 1183.5 L405.7 1183.7 L410.3 1183.9 L414.8 1184.1 L419.3 1184.3 L423.9 1184.5 L428.4 1184.7 L432.9 1184.9 L437.5 1185.1 L442.0 1185.3 L446.6 1185.5 L451.1 1185.7 L455.6 1185.8 L460.2 1186.0 L464.7 1186.2 L469.2 1186.4 L473.8 1186.5 L478.3 1186.7 L482.9 1186.9 L487.4 1187.0 L491.9 1187.2 L496.5 1187.4 L501.0 1187.5 L505.6 1187.7 L510.1 1187.8 L514.6 1188.0 L519.2 1188.1 L523.7 1188.3 L528.3 1188.4 L532.8 1188.6 L537.3 1188.7 L541.9 1188.9 L546.4 1189.0 L551.0 1189.1 L555.5 1189.3 L560.0 1189.4 L564.6 1189.5 L569.1 1189.7 L573.7 1189.8 L578.2 1189.9 L582.7 1190.0 L587.3 1190.2 L591.8 1190.3 L596.4 1190.4 L600.9 1190.5 L605.5 1190.6 L610.0 1190.7 L614.5 1190.8 L619.1 1190.9 L623.6 1191.0 L628.2 1191.1 L632.7 1191.2 L637.3 1191.3 L641.8 1191.4 L646.4 1191.5 L650.9 1191.6 L655.4 1191.7 L660.0 1191.8 L664.5 1191.9 L669.1 1192.0 L673.6 1192.0 L678.2 1192.1 L682.7 1192.2 L687.2 1192.3 L691.8 1192.3 L696.3 1192.4 L700.9 1192.5 L705.4 1192.5 L710.0 1192.6 L714.5 1192.7 L719.1 1192.7 L723.6 1192.8 L728.2 1192.8 L732.7 1192.9 L737.2 1192.9 L741.8 1193.0 L746.3 1193.0 L750.9 1193.1 L755.4 1193.1 L760.0 1193.2 L764.5 1193.2 L769.1 1193.3 L773.6 1193.3 L778.2 1193.3 L782.7 1193.4 L787.3 1193.4 L791.8 1193.4 L796.3 1193.4 L800.9 1193.5 L805.4 1193.5 L810.0 1193.5 L814.5 1193.5 L819.1 1193.5 L823.6 1193.6 L828.2 1193.6 L832.7 1193.6 L837.3 1193.6 L841.8 1193.6 L846.4 1193.6 L850.9 1193.6 L855.5 1193.6 L860.0 1193.6 L864.5 1193.6 L869.1 1193.6 L873.6 1193.6 L878.2 1193.6 L882.7 1193.6 L887.3 1193.6 L891.8 1193.5 L896.4 1193.5 L900.9 1193.5 L905.5 1193.5 L910.0 1193.5 L914.6 1193.4 L919.1 1193.4 L923.7 1193.4 L928.2 1193.3 L932.7 1193.3 L937.3 1193.3 L941.8 1193.2 L946.4 1193.2 L950.9 1193.2 L955.5 1193.1 L960.0 1193.1 L964.6 1193.0 L969.1 1193.0 L973.7 1192.9 L978.2 1192.9 L982.8 1192.8 L987.3 1192.8 L991.8 1192.7 L996.4 1192.7 L1000.9 1192.6 L1005.5 1192.5 L1010.0 1192.5 L1014.6 1192.4 L1019.1 1192.3 L1023.7 1192.3 L1028.2 1192.2 L1032.8 1192.1 L1037.3 1192.0 L1041.9 1192.0 L1046.4 1191.9 L1050.9 1191.8 L1055.5 1191.7 L1060.0 1191.6 L1064.6 1191.5 L1069.1 1191.4 L1073.7 1191.4 L1078.2 1191.3 L1082.8 1191.2 L1087.3 1191.1 L1091.8 1191.0 L1096.4 1190.9 L1100.9 1190.8 L1105.5 1190.7 L1110.0 1190.6 L1114.6 1190.4 L1119.1 1190.3 L1123.7 1190.2 L1128.2 1190.1 L1132.7 1190.0 L1137.3 1189.9 L1141.8 1189.8 L1146.4 1189.6 L1150.9 1189.5 L1155.5 1189.4 L1160.0 1189.3 L1164.5 1189.1 L1169.1 1189.0 L1173.6 1188.9 L1178.2 1188.7 L1182.7 1188.6 L1187.2 1188.5 L1191.8 1188.3 L1196.3 1188.2 L1200.9 1188.0 L1205.4 1187.9 L1210.0 1187.7 L1214.5 1187.6 L1219.0 1187.4 L1223.6 1187.3 L1228.1 1187.1 L1232.7 1187.0 L1237.2 1186.8 L1241.7 1186.7 L1246.3 1186.5 L1250.8 1186.3 L1255.4 1186.2 L1259.9 1186.0 L1264.4 1185.8 L1269.0 1185.7" fill="none" stroke="#0070C0" stroke-width="6.3"/>
<text x="93.4" y="1480.6" font-family='"Liberation Sans", sans-serif' font-size="24.5" fill="#262626" text-anchor="middle">0</text>
<text x="230.8" y="1480.6" font-family='"Liberation Sans", sans-serif' font-size="24.5" fill="#262626" text-anchor="middle">150</text>
<text x="357.1" y="1480.6" font-family='"Liberation Sans", sans-serif' font-size="24.5" fill="#262626" text-anchor="middle">300</text>
<text x="490.5" y="1480.6" font-family='"Liberation Sans", sans-serif' font-size="24.5" fill="#262626" text-anchor="middle">450</text>
<text x="619.5" y="1480.6" font-family='"Liberation Sans", sans-serif' font-size="24.5" fill="#262626" text-anchor="middle">600</text>
<text x="748.6" y="1480.6" font-family='"Liberation Sans", sans-serif' font-size="24.5" fill="#262626" text-anchor="middle">750</text>
<text x="877.5" y="1480.6" font-family='"Liberation Sans", sans-serif' font-size="24.5" fill="#262626" text-anchor="middle">900</text>
<text x="1009.3" y="1480.6" font-family='"Liberation Sans", sans-serif' font-size="24.5" fill="#262626" text-anchor="middle">1050</text>
<text x="1139.2" y="1480.6" font-family='"Liberation Sans", sans-serif' font-size="24.5" fill="#262626" text-anchor="middle">1200</text>
<text x="82" y="1447.3" font-family='"Liberation Sans", sans-serif' font-size="25.5" fill="#262626" text-anchor="end">0</text>
<text x="86" y="1348.1" font-family='"Liberation Sans", sans-serif' font-size="25.5" fill="#262626" text-anchor="end">10</text>
<text x="86" y="1248.9" font-family='"Liberation Sans", sans-serif' font-size="25.5" fill="#262626" text-anchor="end">20</text>
<text x="86" y="1149.7" font-family='"Liberation Sans", sans-serif' font-size="25.5" fill="#262626" text-anchor="end">30</text>
<text x="86" y="1050.5" font-family='"Liberation Sans", sans-serif' font-size="25.5" fill="#262626" text-anchor="end">40</text>
<text x="86" y="951.3" font-family='"Liberation Sans", sans-serif' font-size="25.5" fill="#262626" text-anchor="end">50</text>
<text x="2.5" y="888.3" font-family='"Liberation Sans", sans-serif' font-weight="bold" font-size="51.5" textLength="66" fill="#000">(b)</text>
<text x="210.7" y="1161.8" font-family='"Liberation Serif", serif' font-weight="bold" font-size="38" fill="#4472C4">Silicone</text>
<text x="669" y="1016.2" font-family='"Liberation Serif", serif' font-weight="bold" font-size="38" fill="#ED7D31">Bladder</text>
<text font-family='"Liberation Serif", serif' font-weight="bold" font-size="43.6" fill="#000" text-anchor="middle"><tspan x="1084" y="899.3">Above usual</tspan><tspan x="1083" y="951.7">cystometric</tspan><tspan x="1083" y="1005">capacity</tspan></text>
<text x="418" y="1528" font-family='"Liberation Serif", serif' font-weight="bold" font-size="43.5" fill="#000">Bladder added volume [mL]</text>
<text transform="translate(33.8 1362) rotate(-90)" font-family='"Liberation Serif", serif' font-weight="bold" font-size="44" fill="#000">Pressure [cmH<tspan font-size="32" dy="10">2</tspan><tspan dy="-10">O]</tspan></text>
</svg>
</body></html>
